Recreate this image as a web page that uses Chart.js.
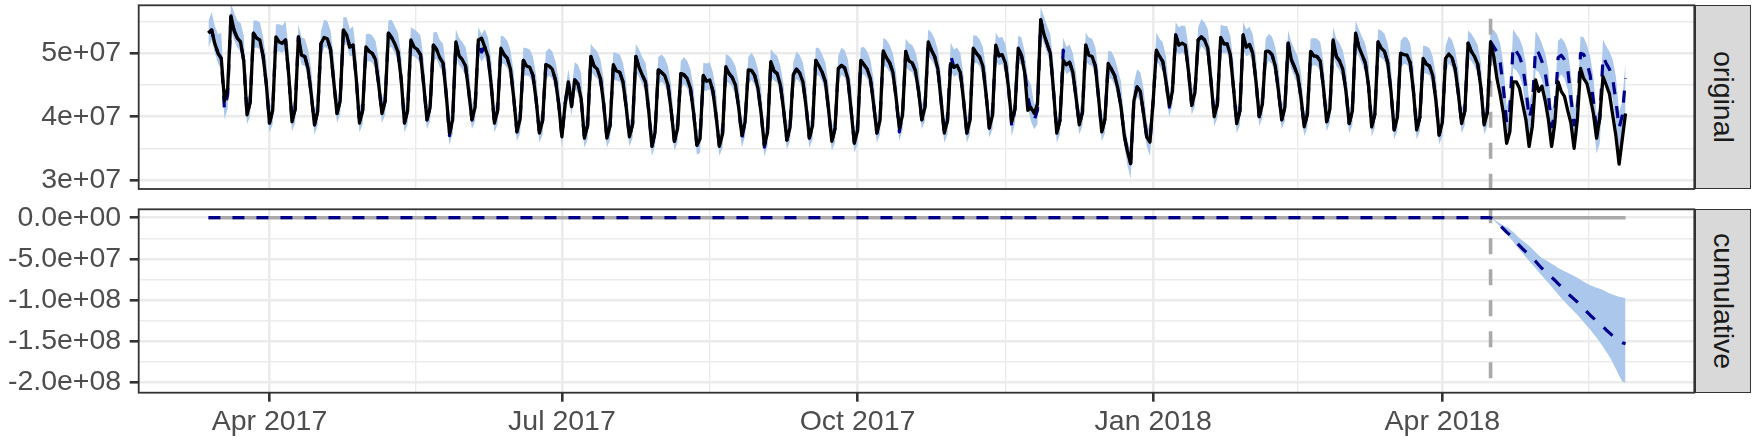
<!DOCTYPE html>
<html lang="en">
<head>
<meta charset="UTF-8">
<title>Causal impact</title>
<script src="https://cdn.jsdelivr.net/npm/chart.js@4.4.1/dist/chart.umd.min.js"></script>
<style>
  html, body { margin:0; padding:0; background:#fff; }
  #wrap { position:relative; width:1758px; height:443px; overflow:hidden; font-family:"Liberation Sans", Arial, sans-serif; }
  canvas { position:absolute; left:0; }
  #cTop { top:0; }
  #cBot { top:200px; }
  .strip { position:absolute; left:1695px; width:56px; background:#d9d9d9; border:1.8px solid #333; box-sizing:border-box;
           display:flex; align-items:center; justify-content:center; }
  .strip span { writing-mode:vertical-rl; font-size:28.5px; color:#1a1a1a; }
</style>
</head>
<body>
<div id="wrap">
  <canvas id="cTop" width="1758" height="200"></canvas>
  <canvas id="cBot" width="1758" height="243"></canvas>
  <div class="strip" style="top:5.3px;height:183.7px"><span>original</span></div>
  <div class="strip" style="top:209.3px;height:183.4px"><span>cumulative</span></div>
</div>
<script>
// daily series, values in millions, first day = startDate
const startDate = '2017-03-13';
const interventionDay = 399;

// observed response (black line)
const actual = [
  53.2, 53.7, 51.5, 50.0, 49.2, 42.5, 44.5,
  55.9, 53.6, 52.4, 51.8, 48.8, 40.3, 42.3,
  53.2, 52.4, 52.1, 49.6, 45.2, 39.0, 41.0,
  52.6, 51.8, 51.6, 52.1, 46.5, 39.2, 41.2,
  52.6, 49.7, 49.5, 47.6, 43.5, 38.7, 40.8,
  51.5, 52.5, 52.3, 50.6, 45.5, 40.5, 42.5,
  53.7, 52.9, 51.0, 51.3, 46.0, 39.0, 41.0,
  51.0, 50.3, 50.0, 49.0, 45.0, 40.5, 42.5,
  53.2, 52.5, 51.5, 50.2, 45.8, 39.0, 41.0,
  52.1, 51.0, 50.6, 49.8, 45.0, 39.5, 41.5,
  51.3, 50.6, 49.3, 48.5, 43.5, 37.4, 39.5,
  51.8, 49.6, 49.0, 48.0, 44.0, 39.5, 41.5,
  52.1, 52.4, 51.0, 49.5, 45.0, 39.0, 41.0,
  50.8, 49.8, 49.2, 47.5, 43.0, 37.6, 39.6,
  48.9, 48.0, 47.8, 46.5, 42.5, 37.4, 39.4,
  48.2, 48.0, 47.5, 45.8, 42.0, 36.8, 42.0,
  45.5, 41.6, 45.8, 45.2, 42.8, 36.6, 38.6,
  49.5, 48.0, 47.5, 46.0, 42.0, 36.6, 38.6,
  48.2, 47.2, 47.0, 45.5, 41.5, 36.8, 38.8,
  49.5, 47.8, 46.6, 45.5, 41.0, 35.3, 37.5,
  47.4, 47.0, 46.5, 45.0, 41.0, 36.1, 38.1,
  46.8, 46.6, 46.0, 44.5, 40.5, 35.5, 36.5,
  46.5, 45.6, 45.8, 44.0, 40.0, 35.3, 37.3,
  47.9, 46.8, 46.2, 45.0, 41.5, 37.1, 39.1,
  47.4, 47.3, 46.5, 44.5, 40.5, 35.5, 37.5,
  48.7, 47.2, 46.8, 45.0, 41.0, 36.3, 38.3,
  46.6, 47.5, 46.9, 45.5, 41.5, 36.6, 38.6,
  48.9, 48.0, 47.0, 45.5, 41.0, 36.1, 38.1,
  47.6, 48.1, 47.7, 46.0, 41.0, 35.8, 37.8,
  48.9, 48.2, 47.5, 46.0, 42.0, 37.4, 39.4,
  50.4, 49.3, 48.5, 47.0, 43.0, 38.2, 40.2,
  50.3, 48.8, 48.5, 47.3, 44.0, 39.5, 41.5,
  51.8, 50.5, 49.5, 47.5, 42.5, 37.4, 39.4,
  48.4, 47.8, 48.1, 47.0, 42.5, 37.4, 39.4,
  50.8, 50.0, 49.4, 48.0, 43.5, 38.2, 40.2,
  51.3, 49.6, 49.8, 48.5, 44.5, 39.2, 41.2,
  50.8, 49.7, 47.0, 41.0, 41.4, 40.5, 42.0,
  55.3, 53.0, 51.5, 50.0, 44.0, 37.4, 39.4,
  48.9, 48.2, 48.6, 47.0, 43.0, 38.7, 40.7,
  51.3, 49.7, 49.5, 48.0, 43.0, 37.6, 39.6,
  48.4, 47.5, 46.5, 44.5, 41.5, 37.0, 34.5,
  32.6, 42.5, 44.7, 44.0, 40.5, 36.8, 36.0,
  42.5, 50.5, 49.5, 48.7, 45.5, 41.8, 44.0,
  52.9, 51.3, 51.6, 51.3, 47.1, 41.8, 43.8,
  52.1, 52.6, 52.1, 50.8, 45.5, 40.0, 42.0,
  52.5, 51.5, 51.5, 49.8, 44.5, 38.9, 40.9,
  52.9, 51.0, 51.4, 50.0, 45.5, 40.0, 42.0,
  50.3, 50.3, 49.8, 48.0, 44.0, 39.5, 41.5,
  51.6, 49.0, 47.8, 46.5, 43.0, 38.4, 40.4,
  50.3, 49.6, 49.5, 48.8, 44.5, 39.2, 41.2,
  52.1, 49.5, 48.8, 47.5, 44.0, 38.9, 40.9,
  53.2, 51.0, 49.8, 48.5, 45.0, 38.4, 40.4,
  51.8, 50.8, 50.3, 48.5, 44.0, 37.9, 39.9,
  50.0, 49.8, 49.7, 48.5, 44.0, 37.9, 39.9,
  49.2, 48.3, 48.0, 46.5, 42.5, 37.1, 39.1,
  49.2, 49.9, 49.3, 47.5, 43.5, 38.9, 40.9,
  51.6, 50.3, 49.5, 48.3, 44.5, 38.7, 40.7,
  51.8, 49.5, 46.0, 43.5, 40.5, 35.8, 37.6,
  45.5, 45.5, 44.5, 42.0, 39.5, 35.3, 38.5,
  45.8, 44.0, 44.8, 42.5, 39.5, 35.3, 39.0,
  45.5, 44.0, 43.2, 41.0, 39.0, 35.0, 39.5,
  47.6, 46.0, 45.2, 43.0, 40.5, 36.6, 40.0,
  46.3, 45.0, 43.6, 40.3, 37.0, 32.5, 36.5,
  40.5
];

// model prediction (dashed navy)
const predicted = [
  53.2, 53.7, 51.5, 50.0, 49.2, 41.1, 43.5,
  55.9, 53.6, 52.4, 51.8, 48.8, 40.3, 42.3,
  53.2, 52.4, 52.1, 49.6, 45.2, 39.0, 41.0,
  52.6, 51.8, 51.6, 52.1, 46.5, 39.2, 41.2,
  52.6, 49.7, 49.5, 47.6, 43.5, 38.7, 40.8,
  51.5, 52.5, 52.3, 50.6, 45.5, 40.5, 42.5,
  53.7, 52.9, 51.0, 51.3, 46.0, 39.0, 41.0,
  51.0, 50.3, 50.0, 49.0, 45.0, 40.5, 42.5,
  53.2, 52.5, 51.5, 50.2, 45.8, 39.0, 41.0,
  52.1, 51.0, 50.6, 49.8, 45.0, 39.5, 41.5,
  51.3, 50.6, 49.3, 48.5, 43.5, 37.0, 39.5,
  51.8, 49.6, 49.0, 48.0, 44.0, 39.5, 41.5,
  52.1, 50.2, 51.0, 49.5, 45.0, 39.0, 41.0,
  50.8, 49.8, 49.2, 47.5, 43.0, 37.6, 39.6,
  48.9, 48.0, 47.8, 46.5, 42.5, 37.4, 39.4,
  48.2, 48.0, 47.5, 45.8, 42.0, 36.8, 42.0,
  45.5, 41.6, 45.8, 45.2, 42.8, 36.6, 38.6,
  49.5, 48.0, 47.5, 46.0, 42.0, 36.6, 38.6,
  48.2, 47.2, 47.0, 45.5, 41.5, 36.8, 38.8,
  49.5, 47.8, 46.6, 45.5, 41.0, 35.3, 37.5,
  47.4, 47.0, 46.5, 45.0, 41.0, 36.1, 38.1,
  46.8, 46.6, 46.0, 44.5, 40.5, 35.5, 36.5,
  46.5, 45.6, 45.8, 44.0, 40.0, 35.3, 37.3,
  47.9, 46.8, 46.2, 45.0, 41.5, 36.6, 39.1,
  47.4, 47.3, 46.5, 44.5, 40.5, 35.2, 37.5,
  48.7, 47.2, 46.8, 45.0, 41.0, 36.3, 38.3,
  46.6, 47.5, 46.9, 45.5, 41.5, 36.6, 38.6,
  48.9, 48.0, 47.0, 45.5, 41.0, 36.1, 38.1,
  47.6, 48.1, 47.7, 46.0, 41.0, 35.8, 37.8,
  48.9, 48.2, 47.5, 46.0, 42.0, 37.4, 39.4,
  50.4, 49.3, 48.5, 47.0, 43.0, 37.6, 40.2,
  50.3, 48.8, 48.5, 47.3, 44.0, 39.5, 41.5,
  51.8, 50.5, 49.5, 47.5, 42.5, 37.4, 39.4,
  49.7, 47.8, 48.1, 47.0, 42.5, 37.4, 39.4,
  50.8, 50.0, 49.4, 48.0, 43.5, 38.2, 40.2,
  51.3, 49.6, 49.8, 48.5, 44.5, 38.4, 41.2,
  50.8, 49.7, 47.5, 43.0, 41.0, 39.5, 41.0,
  55.3, 53.0, 51.5, 50.0, 44.0, 37.4, 39.4,
  50.5, 48.2, 48.6, 47.0, 43.0, 38.7, 40.7,
  51.3, 49.7, 49.5, 48.0, 43.0, 37.6, 39.6,
  48.4, 47.5, 46.5, 44.5, 41.5, 37.0, 34.5,
  32.6, 42.5, 44.7, 44.0, 40.5, 36.8, 36.0,
  42.5, 50.5, 49.5, 48.7, 45.5, 41.5, 44.0,
  52.9, 51.3, 51.6, 51.3, 47.1, 41.8, 43.8,
  52.1, 52.6, 52.1, 50.8, 45.5, 40.0, 42.0,
  52.5, 51.5, 51.5, 49.8, 44.5, 38.9, 40.9,
  52.9, 51.0, 51.4, 50.0, 45.5, 40.0, 42.0,
  50.3, 50.3, 49.8, 48.0, 44.0, 39.5, 41.5,
  51.6, 49.0, 47.8, 46.5, 43.0, 38.4, 40.4,
  50.3, 49.6, 49.5, 48.8, 44.5, 39.2, 41.2,
  52.1, 49.5, 48.8, 47.5, 44.0, 38.9, 40.9,
  53.2, 51.0, 49.8, 48.5, 45.0, 38.4, 40.4,
  51.8, 50.8, 50.3, 48.5, 44.0, 37.9, 39.9,
  50.0, 49.8, 49.7, 48.5, 44.0, 37.9, 39.9,
  49.2, 48.3, 48.0, 46.5, 42.5, 37.1, 39.1,
  49.2, 49.9, 49.3, 47.5, 43.5, 38.9, 40.9,
  51.6, 50.3, 49.5, 48.3, 44.5, 38.7, 40.7,
  51.8, 51.0, 50.2, 48.5, 44.5, 39.0, 41.0,
  51.1, 50.3, 49.5, 48.0, 44.5, 39.7, 41.7,
  50.8, 50.0, 48.7, 47.0, 43.5, 38.4, 40.4,
  49.3, 49.7, 49.0, 47.5, 43.0, 38.7, 40.7,
  50.0, 49.8, 48.5, 46.5, 42.5, 37.6, 39.6,
  49.5, 48.4, 47.5, 46.0, 42.5, 38.2, 40.2,
  46.1
];

// prediction interval, upper edge
const predUpper = [
  55.2, 56.5, 54.3, 53.0, 53.2, 43.5, 45.3,
  57.9, 56.4, 55.2, 54.8, 52.8, 42.7, 44.1,
  55.2, 55.2, 54.9, 52.6, 49.2, 41.4, 42.8,
  54.6, 54.6, 54.4, 55.1, 50.5, 41.6, 43.0,
  54.6, 52.5, 52.3, 50.6, 47.5, 41.1, 42.6,
  53.5, 55.3, 55.1, 53.6, 49.5, 42.9, 44.3,
  55.7, 55.7, 53.8, 54.3, 50.0, 41.4, 42.8,
  53.0, 53.1, 52.8, 52.0, 49.0, 42.9, 44.3,
  55.2, 55.3, 54.3, 53.2, 49.8, 41.4, 42.8,
  54.1, 53.8, 53.4, 52.8, 49.0, 41.9, 43.3,
  53.3, 53.4, 52.1, 51.5, 47.5, 39.4, 41.3,
  53.8, 52.4, 51.8, 51.0, 48.0, 41.9, 43.3,
  54.1, 53.0, 53.8, 52.5, 49.0, 41.4, 42.8,
  52.8, 52.6, 52.0, 50.5, 47.0, 40.0, 41.4,
  50.9, 50.8, 50.6, 49.5, 46.5, 39.8, 41.2,
  50.2, 50.8, 50.3, 48.8, 46.0, 39.2, 43.8,
  47.5, 44.4, 48.6, 48.2, 46.8, 39.0, 40.4,
  51.5, 50.8, 50.3, 49.0, 46.0, 39.0, 40.4,
  50.2, 50.0, 49.8, 48.5, 45.5, 39.2, 40.6,
  51.5, 50.6, 49.4, 48.5, 45.0, 37.7, 39.3,
  49.4, 49.8, 49.3, 48.0, 45.0, 38.5, 39.9,
  48.8, 49.4, 48.8, 47.5, 44.5, 37.9, 38.3,
  48.5, 48.4, 48.6, 47.0, 44.0, 37.7, 39.1,
  49.9, 49.6, 49.0, 48.0, 45.5, 39.0, 40.9,
  49.4, 50.1, 49.3, 47.5, 44.5, 37.6, 39.3,
  50.7, 50.0, 49.6, 48.0, 45.0, 38.7, 40.1,
  48.6, 50.3, 49.7, 48.5, 45.5, 39.0, 40.4,
  50.9, 50.8, 49.8, 48.5, 45.0, 38.5, 39.9,
  49.6, 50.9, 50.5, 49.0, 45.0, 38.2, 39.6,
  50.9, 51.0, 50.3, 49.0, 46.0, 39.8, 41.2,
  52.4, 52.1, 51.3, 50.0, 47.0, 40.0, 42.0,
  52.3, 51.6, 51.3, 50.3, 48.0, 41.9, 43.3,
  53.8, 53.3, 52.3, 50.5, 46.5, 39.8, 41.2,
  51.7, 50.6, 50.9, 50.0, 46.5, 39.8, 41.2,
  52.8, 52.8, 52.2, 51.0, 47.5, 40.6, 42.0,
  53.3, 52.4, 52.6, 51.5, 48.5, 40.8, 43.0,
  52.8, 52.5, 50.3, 46.0, 45.0, 41.9, 42.8,
  57.3, 55.8, 54.3, 53.0, 48.0, 39.8, 41.2,
  52.5, 51.0, 51.4, 50.0, 47.0, 41.1, 42.5,
  53.3, 52.5, 52.3, 51.0, 47.0, 40.0, 41.4,
  50.4, 50.3, 49.3, 47.5, 45.5, 39.4, 36.3,
  34.6, 45.3, 47.5, 47.0, 44.5, 39.2, 37.8,
  44.5, 53.3, 52.3, 51.7, 49.5, 43.9, 45.8,
  54.9, 54.1, 54.4, 54.3, 51.1, 44.2, 45.6,
  54.1, 55.4, 54.9, 53.8, 49.5, 42.4, 43.8,
  54.5, 54.3, 54.3, 52.8, 48.5, 41.3, 42.7,
  54.9, 53.8, 54.2, 53.0, 49.5, 42.4, 43.8,
  52.3, 53.1, 52.6, 51.0, 48.0, 41.9, 43.3,
  53.6, 51.8, 50.6, 49.5, 47.0, 40.8, 42.2,
  52.3, 52.4, 52.3, 51.8, 48.5, 41.6, 43.0,
  54.1, 52.3, 51.6, 50.5, 48.0, 41.3, 42.7,
  55.2, 53.8, 52.6, 51.5, 49.0, 40.8, 42.2,
  53.8, 53.6, 53.1, 51.5, 48.0, 40.3, 41.7,
  52.0, 52.6, 52.5, 51.5, 48.0, 40.3, 41.7,
  51.2, 51.1, 50.8, 49.5, 46.5, 39.5, 40.9,
  51.2, 52.7, 52.1, 50.5, 47.5, 41.3, 42.7,
  53.6, 53.1, 52.3, 51.3, 48.5, 41.1, 42.5,
  53.8, 53.7, 53.0, 51.5, 48.3, 41.6, 43.2,
  53.8, 53.0, 52.3, 51.0, 48.3, 42.3, 43.9,
  53.5, 52.7, 51.5, 50.0, 47.3, 41.0, 42.6,
  52.0, 52.4, 51.8, 50.5, 46.8, 41.3, 42.9,
  52.7, 52.5, 51.3, 49.5, 46.3, 40.2, 41.8,
  52.2, 51.1, 50.3, 49.0, 46.3, 40.8, 42.4,
  48.8
];

// prediction interval, lower edge
const predLower = [
  50.8, 52.2, 50.0, 48.4, 47.4, 39.6, 41.3,
  53.5, 52.1, 50.9, 50.2, 47.0, 38.8, 40.1,
  50.8, 50.9, 50.6, 48.0, 43.4, 37.5, 38.8,
  50.2, 50.3, 50.1, 50.5, 44.7, 37.7, 39.0,
  50.2, 48.2, 48.0, 46.0, 41.7, 37.2, 38.6,
  49.1, 51.0, 50.8, 49.0, 43.7, 39.0, 40.3,
  51.3, 51.4, 49.5, 49.7, 44.2, 37.5, 38.8,
  48.6, 48.8, 48.5, 47.4, 43.2, 39.0, 40.3,
  50.8, 51.0, 50.0, 48.6, 44.0, 37.5, 38.8,
  49.7, 49.5, 49.1, 48.2, 43.2, 38.0, 39.3,
  48.9, 49.1, 47.8, 46.9, 41.7, 35.5, 37.3,
  49.4, 48.1, 47.5, 46.4, 42.2, 38.0, 39.3,
  49.7, 48.7, 49.5, 47.9, 43.2, 37.5, 38.8,
  48.4, 48.3, 47.7, 45.9, 41.2, 36.1, 37.4,
  46.5, 46.5, 46.3, 44.9, 40.7, 35.9, 37.2,
  45.8, 46.5, 46.0, 44.2, 40.2, 35.3, 39.8,
  43.1, 40.1, 44.3, 43.6, 41.0, 35.1, 36.4,
  47.1, 46.5, 46.0, 44.4, 40.2, 35.1, 36.4,
  45.8, 45.7, 45.5, 43.9, 39.7, 35.3, 36.6,
  47.1, 46.3, 45.1, 43.9, 39.2, 33.8, 35.3,
  45.0, 45.5, 45.0, 43.4, 39.2, 34.6, 35.9,
  44.4, 45.1, 44.5, 42.9, 38.7, 34.0, 34.3,
  44.1, 44.1, 44.3, 42.4, 38.2, 33.8, 35.1,
  45.5, 45.3, 44.7, 43.4, 39.7, 35.1, 36.9,
  45.0, 45.8, 45.0, 42.9, 38.7, 33.7, 35.3,
  46.3, 45.7, 45.3, 43.4, 39.2, 34.8, 36.1,
  44.2, 46.0, 45.4, 43.9, 39.7, 35.1, 36.4,
  46.5, 46.5, 45.5, 43.9, 39.2, 34.6, 35.9,
  45.2, 46.6, 46.2, 44.4, 39.2, 34.3, 35.6,
  46.5, 46.7, 46.0, 44.4, 40.2, 35.9, 37.2,
  48.0, 47.8, 47.0, 45.4, 41.2, 36.1, 38.0,
  47.9, 47.3, 47.0, 45.7, 42.2, 38.0, 39.3,
  49.4, 49.0, 48.0, 45.9, 40.7, 35.9, 37.2,
  47.3, 46.3, 46.6, 45.4, 40.7, 35.9, 37.2,
  48.4, 48.5, 47.9, 46.4, 41.7, 36.7, 38.0,
  48.9, 48.1, 48.3, 46.9, 42.7, 36.9, 39.0,
  48.4, 48.2, 46.0, 41.4, 39.2, 38.0, 38.8,
  52.9, 51.5, 50.0, 48.4, 42.2, 35.9, 37.2,
  48.1, 46.7, 47.1, 45.4, 41.2, 37.2, 38.5,
  48.9, 48.2, 48.0, 46.4, 41.2, 36.1, 37.4,
  46.0, 46.0, 45.0, 42.9, 39.7, 35.5, 32.3,
  30.2, 41.0, 43.2, 42.4, 38.7, 35.3, 33.8,
  40.1, 49.0, 48.0, 47.1, 43.7, 40.0, 41.8,
  50.5, 49.8, 50.1, 49.7, 45.3, 40.3, 41.6,
  49.7, 51.1, 50.6, 49.2, 43.7, 38.5, 39.8,
  50.1, 50.0, 50.0, 48.2, 42.7, 37.4, 38.7,
  50.5, 49.5, 49.9, 48.4, 43.7, 38.5, 39.8,
  47.9, 48.8, 48.3, 46.4, 42.2, 38.0, 39.3,
  49.2, 47.5, 46.3, 44.9, 41.2, 36.9, 38.2,
  47.9, 48.1, 48.0, 47.2, 42.7, 37.7, 39.0,
  49.7, 48.0, 47.3, 45.9, 42.2, 37.4, 38.7,
  50.8, 49.5, 48.3, 46.9, 43.2, 36.9, 38.2,
  49.4, 49.3, 48.8, 46.9, 42.2, 36.4, 37.7,
  47.6, 48.3, 48.2, 46.9, 42.2, 36.4, 37.7,
  46.8, 46.8, 46.5, 44.9, 40.7, 35.6, 36.9,
  46.8, 48.4, 47.8, 45.9, 41.7, 37.4, 38.7,
  49.2, 48.8, 48.0, 46.7, 42.7, 37.2, 38.5,
  49.4, 48.0, 47.2, 45.3, 40.9, 35.6, 37.2,
  47.7, 47.3, 46.5, 44.8, 40.9, 36.3, 37.9,
  47.4, 47.0, 45.7, 43.8, 39.9, 35.0, 36.6,
  45.9, 46.7, 46.0, 44.3, 39.4, 35.3, 36.9,
  46.6, 46.8, 45.5, 43.3, 38.9, 34.2, 35.8,
  46.1, 45.4, 44.5, 42.8, 38.9, 34.8, 36.4,
  39.0
];

// cumulative effect from the intervention day on (pre-period is 0)
const cumEffect = [
  0, -2.5, -6, -9.5, -13.5, -17.5, -21, -25.5, -30, -34, -38, -41.5, -45, -48.5,
  -53, -57.5, -61.5, -65.5, -69, -72.5, -76, -80, -84, -88, -92, -95.5, -99,
  -102.5, -106.5, -110.5, -114.5, -118.5, -122, -125.5, -129, -132.5, -136.5,
  -140, -143.5, -147, -150, -152, -153
];
const cumUpper = [
  0, -2, -4.5, -7, -9.5, -11.5, -14, -17.5, -21, -25, -28, -31, -34, -38,
  -42, -46, -49, -51, -53.5, -56, -58.5, -61, -63, -65, -67, -69, -71,
  -73, -75.5, -78, -80, -82, -83.5, -85, -86.5, -88, -90,
  -92, -93.5, -95, -96, -97, -98
];
const cumLower = [
  0, -3, -7, -11, -15.5, -20, -24.5, -29, -34, -39, -43.5, -48, -52.5, -57,
  -61.5, -66, -70.5, -75, -79.5, -84, -88.5, -93, -97.5, -102, -106, -110, -114,
  -118, -122.5, -127, -131.5, -136, -141, -146, -151, -157, -163,
  -169, -176, -184, -192, -199, -201
];

// axis breaks
const xBreakDates = ['2017-01-01', '2017-04-01', '2017-07-01', '2017-10-01', '2018-01-01', '2018-04-01', '2018-07-01'];
const xBreakLabels = ['Jan 2017', 'Apr 2017', 'Jul 2017', 'Oct 2017', 'Jan 2018', 'Apr 2018', 'Jul 2018'];
const topBreaks = [30, 40, 50];
const topBreakLabels = ['3e+07', '4e+07', '5e+07'];
const cumBreaks = [-200, -150, -100, -50, 0];
const cumBreakLabels = ['-2.0e+08', '-1.5e+08', '-1.0e+08', '-5.0e+07', '0.0e+00'];

const X_MIN = -21.7, X_MAX = 462.4;
const TOP_MIN = 28.58, TOP_MAX = 57.58;
const CUM_MIN = -212.7, CUM_MAX = 10.2;

function dayOf(s) { return Math.round((Date.parse(s) - Date.parse(startDate)) / 86400000); }

// majors plus ggplot-style minors halfway between
function buildTicks(majors, labels, lo, hi) {
  const out = majors.map((v, i) => ({ value: v, isMajor: true, text: labels[i] }));
  for (let i = 0; i < majors.length - 1; i++) out.push({ value: (majors[i] + majors[i + 1]) / 2, isMajor: false, text: '' });
  const n = majors.length;
  out.push({ value: majors[0] - (majors[1] - majors[0]) / 2, isMajor: false, text: '' });
  out.push({ value: majors[n - 1] + (majors[n - 1] - majors[n - 2]) / 2, isMajor: false, text: '' });
  return out.filter(t => t.value >= lo && t.value <= hi).sort((a, b) => a.value - b.value);
}

const xTicks = buildTicks(xBreakDates.map(dayOf), xBreakLabels, X_MIN, X_MAX);
const topTicks = buildTicks(topBreaks, topBreakLabels, TOP_MIN, TOP_MAX);
const cumTicks = buildTicks(cumBreaks, cumBreakLabels, CUM_MIN, CUM_MAX);

Chart.defaults.font.family = '"Liberation Sans", Arial, sans-serif';
Chart.defaults.font.size = 28.5;
Chart.defaults.color = '#4d4d4d';

const BAND = '#abc8ec';
const NAVY = '#00008b';
const DARKGREY = '#a9a9a9';

function gridOpts(drawTicks) {
  return {
    color: '#ebebeb',
    lineWidth: c => (c.tick && c.tick.isMajor) ? 2.6 : 1.4,
    drawTicks: drawTicks,
    tickLength: 9,
    tickWidth: 2.6,
    tickColor: c => (c.tick && c.tick.isMajor) ? '#333333' : 'rgba(0,0,0,0)'
  };
}

function xScale(showLabels, height) {
  return {
    type: 'linear', min: X_MIN, max: X_MAX,
    border: { display: false },
    grid: gridOpts(showLabels),
    afterBuildTicks: s => { s.ticks = xTicks.map(t => Object.assign({}, t)); },
    ticks: { display: showLabels, autoSkip: false, maxRotation: 0, minRotation: 0, padding: 3,
             callback: (v, i, ticks) => ticks[i].text },
    afterFit: s => { s.height = height; s.paddingLeft = 0; s.paddingRight = 0; }
  };
}

function yScale(min, max, tickList) {
  return {
    type: 'linear', min: min, max: max,
    border: { display: false },
    grid: gridOpts(true),
    afterBuildTicks: s => { s.ticks = tickList.map(t => Object.assign({}, t)); },
    ticks: { autoSkip: false, padding: 8.5, callback: (v, i, ticks) => ticks[i].text },
    afterFit: s => { s.width = 138.7; s.paddingTop = 0; s.paddingBottom = 0; }
  };
}

const panelBorder = {
  id: 'panelBorder',
  afterDraw(chart) {
    const a = chart.chartArea, c = chart.ctx;
    c.save();
    c.strokeStyle = '#333333';
    c.lineWidth = 1.8;
    c.strokeRect(a.left, a.top, a.right - a.left, a.bottom - a.top);
    c.restore();
  }
};

const daily = arr => arr.map((v, i) => ({ x: i, y: v }));
const post = arr => [{ x: 0, y: 0 }].concat(arr.map((v, i) => ({ x: interventionDay + i, y: v })));
const line = (extra) => Object.assign({ pointRadius: 0, borderJoinStyle: 'round', tension: 0, fill: false }, extra);

const common = {
  responsive: false,
  animation: false,
  plugins: { legend: { display: false }, tooltip: { enabled: false } },
  events: []
};

new Chart(document.getElementById('cTop'), {
  type: 'line',
  data: {
    datasets: [
      line({ data: daily(actual), borderColor: '#000000', borderWidth: 3.3 }),
      line({ data: daily(predicted), borderColor: NAVY, borderWidth: 3.2, borderDash: [12, 12] }),
      line({ data: [{ x: interventionDay, y: TOP_MIN - 5 }, { x: interventionDay, y: TOP_MAX + 5 }],
             borderColor: DARKGREY, borderWidth: 3.6, borderDash: [16, 15] }),
      line({ data: daily(predUpper), borderWidth: 0, borderColor: 'rgba(0,0,0,0)' }),
      line({ data: daily(predLower), borderWidth: 0, borderColor: 'rgba(0,0,0,0)', backgroundColor: BAND, fill: '-1' })
    ]
  },
  options: Object.assign({}, common, {
    layout: { autoPadding: false, padding: { top: 5.3, right: 63.7, left: 0, bottom: 0 } },
    scales: { x: xScale(false, 11), y: yScale(TOP_MIN, TOP_MAX, topTicks) }
  }),
  plugins: [panelBorder]
});

new Chart(document.getElementById('cBot'), {
  type: 'line',
  data: {
    datasets: [
      line({ data: post(cumEffect), borderColor: NAVY, borderWidth: 3.2, borderDash: [12, 12] }),
      line({ data: [{ x: interventionDay, y: CUM_MIN - 20 }, { x: interventionDay, y: CUM_MAX + 20 }],
             borderColor: DARKGREY, borderWidth: 3.6, borderDash: [16, 15] }),
      line({ data: [{ x: 0, y: 0 }, { x: actual.length - 1, y: 0 }], borderColor: DARKGREY, borderWidth: 3.6 }),
      line({ data: post(cumUpper), borderWidth: 0, borderColor: 'rgba(0,0,0,0)' }),
      line({ data: post(cumLower), borderWidth: 0, borderColor: 'rgba(0,0,0,0)', backgroundColor: BAND, fill: '-1' })
    ]
  },
  options: Object.assign({}, common, {
    layout: { autoPadding: false, padding: { top: 9.3, right: 63.7, left: 0, bottom: 0 } },
    scales: { x: xScale(true, 50.3), y: yScale(CUM_MIN, CUM_MAX, cumTicks) }
  }),
  plugins: [panelBorder]
});
</script>
</body>
</html>
